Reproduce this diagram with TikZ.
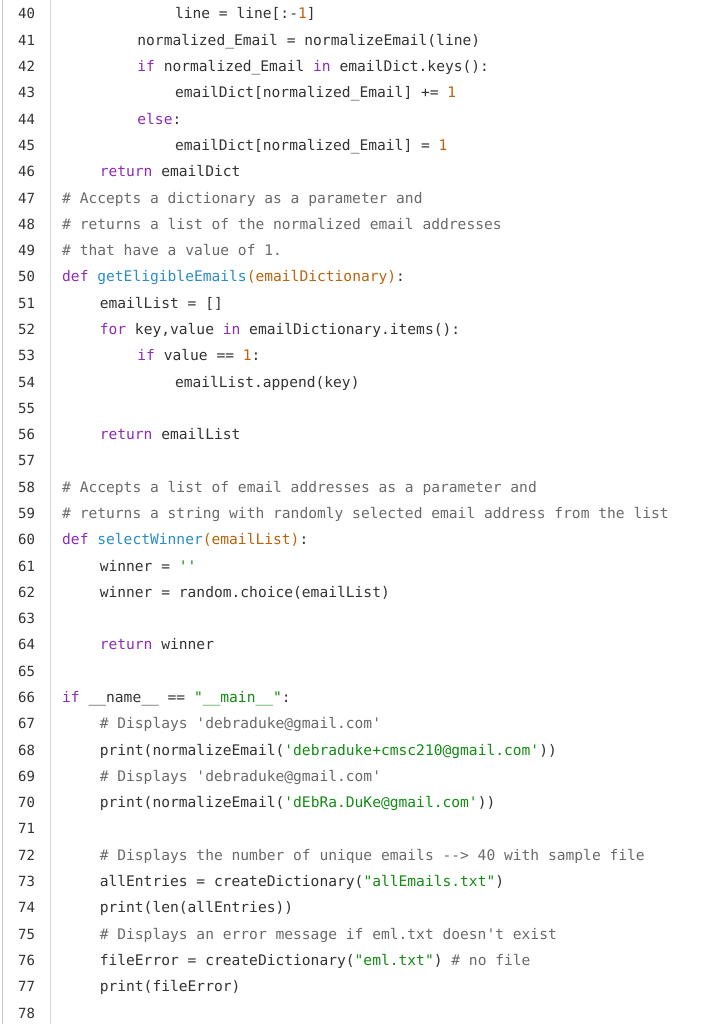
\documentclass[tikz,border=0pt]{standalone}
\usepackage{fontspec}
\setmonofont{DejaVu Sans Mono}
\definecolor{kwc}{HTML}{8E2BB8}
\definecolor{fnc}{HTML}{2A8DC5}
\definecolor{prc}{HTML}{B8650E}
\definecolor{nmc}{HTML}{C0600E}
\definecolor{stc}{HTML}{148C14}
\definecolor{cmc}{HTML}{6A6A6A}
\definecolor{txc}{HTML}{333333}
\definecolor{lnc}{HTML}{333333}
\newcommand\kw[1]{\textcolor{kwc}{#1}}
\newcommand\fn[1]{\textcolor{fnc}{#1}}
\newcommand\pr[1]{\textcolor{prc}{#1}}
\newcommand\nm[1]{\textcolor{nmc}{#1}}
\newcommand\st[1]{\textcolor{stc}{#1}}
\newcommand\cm[1]{\textcolor{cmc}{#1}}
\tikzset{code/.style={anchor=base west,inner sep=0pt,font=\ttfamily\fontsize{14.6}{16}\selectfont,text=txc},
lnum/.style={anchor=base west,inner sep=0pt,font=\ttfamily\fontsize{14}{16}\selectfont,text=lnc}}
\newcommand\CL[3]{%
\node[lnum] (n#1) at (18,{1024-19-26.29*(#1-40)}) {#1};
\node[code] (c#1) at ({62+37.6*#2},{1024-19-26.29*(#1-40)}) {#3};}
\begin{document}
\begin{tikzpicture}[x=1pt,y=1pt]
\useasboundingbox (0,0) rectangle (718,1024);
\fill[white] (0,0) rectangle (718,1024);
\draw[gray!45,line width=1pt] (2.5,0) -- (2.5,1024);
\draw[gray!30,line width=0.8pt] (50.5,0) -- (50.5,1024);
\CL{40}{3}{line = line[:-\nm{1}]}
\CL{41}{2}{normalized\_Email = normalizeEmail(line)}
\CL{42}{2}{\kw{if} normalized\_Email \kw{in} emailDict.keys():}
\CL{43}{3}{emailDict[normalized\_Email] += \nm{1}}
\CL{44}{2}{\kw{else}:}
\CL{45}{3}{emailDict[normalized\_Email] = \nm{1}}
\CL{46}{1}{\kw{return} emailDict}
\CL{47}{0}{\cm{\# Accepts a dictionary as a parameter and}}
\CL{48}{0}{\cm{\# returns a list of the normalized email addresses}}
\CL{49}{0}{\cm{\# that have a value of 1.}}
\CL{50}{0}{\kw{def} \fn{getEligibleEmails}\pr{(emailDictionary)}:}
\CL{51}{1}{emailList = []}
\CL{52}{1}{\kw{for} key,value \kw{in} emailDictionary.items():}
\CL{53}{2}{\kw{if} value == \nm{1}:}
\CL{54}{3}{emailList.append(key)}
\CL{55}{0}{}
\CL{56}{1}{\kw{return} emailList}
\CL{57}{0}{}
\CL{58}{0}{\cm{\# Accepts a list of email addresses as a parameter and}}
\CL{59}{0}{\cm{\# returns a string with randomly selected email address from the list}}
\CL{60}{0}{\kw{def} \fn{selectWinner}\pr{(emailList)}:}
\CL{61}{1}{winner = \st{''}}
\CL{62}{1}{winner = random.choice(emailList)}
\CL{63}{0}{}
\CL{64}{1}{\kw{return} winner}
\CL{65}{0}{}
\CL{66}{0}{\kw{if} \_\_name\_\_ == \st{"\_\_main\_\_"}:}
\CL{67}{1}{\cm{\# Displays 'debraduke@gmail.com'}}
\CL{68}{1}{print(normalizeEmail(\st{'debraduke+cmsc210@gmail.com'}))}
\CL{69}{1}{\cm{\# Displays 'debraduke@gmail.com'}}
\CL{70}{1}{print(normalizeEmail(\st{'dEbRa.DuKe@gmail.com'}))}
\CL{71}{0}{}
\CL{72}{1}{\cm{\# Displays the number of unique emails --> 40 with sample file}}
\CL{73}{1}{allEntries = createDictionary(\st{"allEmails.txt"})}
\CL{74}{1}{print(len(allEntries))}
\CL{75}{1}{\cm{\# Displays an error message if eml.txt doesn't exist}}
\CL{76}{1}{fileError = createDictionary(\st{"eml.txt"}) \cm{\# no file}}
\CL{77}{1}{print(fileError)}
\CL{78}{0}{}
\end{tikzpicture}
\end{document}
